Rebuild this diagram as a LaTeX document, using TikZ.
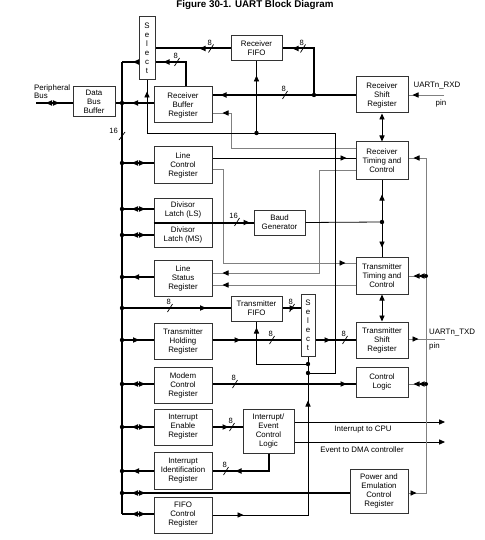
\documentclass[tikz,border=0pt]{standalone}
\usepackage{fontspec}
\setmainfont{Liberation Sans}
\usetikzlibrary{arrows.meta,decorations.markings}

\tikzset{
  >={Triangle[length=6pt,width=5.2pt]},
  blk/.style={draw=black!80,line width=1pt,align=center,inner sep=0pt,
    font=\fontsize{7.9}{9}\selectfont},
  lbl/.style={inner sep=0pt,font=\fontsize{7.9}{9}\selectfont},
  wlbl/.style={inner sep=0pt,font=\fontsize{7.6}{8}\selectfont},
  sig/.style={line width=0.8pt},
  greyline/.style={draw=black!50,line width=0.9pt},
  fat/.style={line width=2pt},
  bus/.style={line width=2.6pt},
  fwd/.style={postaction={decoration={markings,mark=at position #1 with {\arrow[black]{>}}},decorate}},
  bwd/.style={postaction={decoration={markings,mark=at position #1 with {\arrowreversed[black]{>}}},decorate}},
  dual/.style={bwd=10pt,fwd=23pt},
}
% bus width mark: name, x, y, label
\newcommand{\wslash}[4]{%
  \draw[line width=0.7pt] ({#2-2.5},{#3+4}) -- ({#2+2.5},{#3-4});
  \node[wlbl,anchor=south east] (#1) at ({#2+1},{#3-3}) {#4};}

\begin{document}
\begin{tikzpicture}[x=1pt,y=-1pt]
\useasboundingbox (0,0) rectangle (484,540);
\node[font=\bfseries\fontsize{9.8}{11}\selectfont,inner sep=0pt] (title) at (255,4.5) {Figure 30-1. UART Block Diagram};

% blocks
\node[blk,minimum width=16pt,minimum height=63pt] (selR) at (147,48.5) {S\\e\\l\\e\\c\\t};
\node[blk,minimum width=51pt,minimum height=25pt] (rfifo) at (256.5,48.5) {Receiver\\FIFO};
\node[blk,minimum width=52pt,minimum height=36pt] (rsr) at (382,95) {Receiver\\Shift\\Register};
\node[blk,minimum width=58pt,minimum height=36pt] (rbr) at (183,105) {Receiver\\Buffer\\Register};
\node[blk,minimum width=42pt,minimum height=30pt] (dbb) at (94,102) {Data\\Bus\\Buffer};
\node[blk,minimum width=58pt,minimum height=36pt] (lcr) at (183,165) {Line\\Control\\Register};
\node[blk,minimum width=52pt,minimum height=37pt] (rtc) at (382,160.5) {Receiver\\Timing and\\Control};
\node[blk,minimum width=58pt,minimum height=24pt] (dll) at (183,210) {Divisor\\Latch (LS)};
\node[blk,minimum width=58pt,minimum height=25pt] (dlm) at (183,234.5) {Divisor\\Latch (MS)};
\node[blk,minimum width=51pt,minimum height=25pt] (baud) at (279.5,222.5) {Baud\\Generator};
\node[blk,minimum width=52pt,minimum height=37pt] (ttc) at (382,275.5) {Transmitter\\Timing and\\Control};
\node[blk,minimum width=58pt,minimum height=36pt] (lsr) at (183,278) {Line\\Status\\Register};
\node[blk,minimum width=51pt,minimum height=25pt] (tfifo) at (256.5,308.5) {Transmitter\\FIFO};
\node[blk,minimum width=14pt,minimum height=62pt] (selT) at (308,325) {S\\e\\l\\e\\c\\t};
\node[blk,minimum width=58pt,minimum height=36pt] (thr) at (183,341) {Transmitter\\Holding\\Register};
\node[blk,minimum width=52pt,minimum height=36pt] (tsr) at (382,340) {Transmitter\\Shift\\Register};
\node[blk,minimum width=58pt,minimum height=36pt] (mcr) at (183,385) {Modem\\Control\\Register};
\node[blk,minimum width=52pt,minimum height=30pt] (cl) at (382,382) {Control\\Logic};
\node[blk,minimum width=58pt,minimum height=36pt] (ier) at (183,427) {Interrupt\\Enable\\Register};
\node[blk,minimum width=51pt,minimum height=44pt] (iecl) at (268.5,431) {Interrupt/\\Event\\Control\\Logic};
\node[blk,minimum width=58pt,minimum height=37pt] (iir) at (183,470.5) {Interrupt\\Identification\\Register};
\node[blk,minimum width=58pt,minimum height=44pt] (pecr) at (379,491) {Power and\\Emulation\\Control\\Register};
\node[blk,minimum width=58pt,minimum height=36pt] (fcr) at (183,515) {FIFO\\Control\\Register};

% texts
\node[lbl,anchor=west,align=left,font=\fontsize{7.9}{8}\selectfont] (pbus) at (34,91.5) {Peripheral\\Bus};
\node[lbl] (rxd) at (437,86) {UARTn\_RXD};
\node[lbl] (rxdpin) at (441,103) {pin};
\node[lbl,anchor=west] (txd) at (429,333) {UARTn\_TXD};
\node[lbl,anchor=west] (txdpin) at (429,346) {pin};
\node[lbl] (cpu) at (363,430) {Interrupt to CPU};
\node[lbl] (dma) at (362,450) {Event to DMA controller};

% bus points
\coordinate (bT) at (122,62);
\coordinate (bDB) at (122,103);
\coordinate (bLC) at (122,163);
\coordinate (bLS) at (122,209);
\coordinate (bMS) at (122,235);
\coordinate (bST) at (122,277);
\coordinate (bTF) at (122,308);
\coordinate (bTH) at (122,340);
\coordinate (bMC) at (122,384);
\coordinate (bIE) at (122,427);
\coordinate (bII) at (122,471);
\coordinate (bPE) at (122,493);
\coordinate (bFC) at (122,514);
% other points
\coordinate (pb) at (36,103);
\coordinate (rxj) at (314,95);
\coordinate (bgj) at (382,222);
\coordinate (rfj) at (256.5,133);
\coordinate (sA) at (308,364);
\coordinate (sB) at (308,373);
\coordinate (pj1) at (426,276);
\coordinate (pj2) at (426,384);
\coordinate (rxdend) at (444,95);
\coordinate (txdend) at (445,339);
\coordinate (cpuend) at (445,422);
\coordinate (dmaend) at (445,442);

% main bus
\draw[bus] (bT) -- (bFC);
\draw[line width=0.7pt] (119,140) -- (125,132);
\node[wlbl,anchor=east] (w16b) at (118,131) {16};
\draw[fat,bwd=11pt] (bT) -- (selR.west |- bT);
\draw[fat] (dbb.east |- bDB) -- (bDB);
\draw[fat,bwd=10pt] (bDB) -- (rbr.west |- bDB);
\draw[fat,dual] (pb) -- (dbb.west |- pb);
\draw[fat,dual] (bLC) -- (lcr.west |- bLC);
\draw[fat,dual] (bLS) -- (dll.west |- bLS);
\draw[fat,dual] (bMS) -- (dlm.west |- bMS);
\draw[fat,bwd=11pt] (bST) -- (lsr.west |- bST);
\draw[fat,fwd=84pt] (bTF) -- (tfifo.west |- bTF);
\draw[fat,fwd=17pt] (bTH) -- (thr.west |- bTH);
\draw[fat,dual] (bMC) -- (mcr.west |- bMC);
\draw[fat,dual] (bIE) -- (ier.west |- bIE);
\draw[fat,bwd=11pt] (bII) -- (iir.west |- bII);
\draw[fat,dual] (bPE) -- (pecr.west |- bPE);
\draw[fat,dual] (bFC) -- (fcr.west |- bFC);
\foreach \c in {bDB,bLC,bLS,bMS,bST,bTF,bTH,bMC,bIE,bII,bPE}
  \fill (\c) circle[radius=2.2pt];
\wslash{w8a}{170}{308}{8}

% receive side
\draw[fat,fwd=31pt] (rfifo.west) -- (selR.east |- rfifo.west);
\wslash{w8b}{211}{48.5}{8}
\draw[fat,fwd=-8pt] ([xshift=3pt]rbr.north) |- (selR.east |- bT);
\wslash{w8c}{177}{62}{8}
\draw[fat,fwd=-10pt] (rxj) |- (rfifo.east);
\wslash{w8d}{303}{48.5}{8}
\draw[fat,fwd=-8pt] (rsr.west) -- (rbr.east |- rsr.west);
\wslash{w8e}{285}{95}{8}
\fill (rxj) circle[radius=2.2pt];
\draw[greyline,fwd=-4pt] (rxdend) -- (rsr.east |- rxdend); %RXD pin
\draw[sig,<->] (rsr) -- (rtc);
\draw[greyline,fwd=-10pt] (rtc.west |- 0,148) -| (231,113) -- (rbr.east |- 0,113);
\draw[sig,fwd=-9pt] (lcr.east |- 0,158) -- (rtc.west |- 0,158);
\draw[greyline,fwd=-10pt] (lcr.east |- 0,169) -| (223,263) -- (ttc.west |- 0,263);
\draw[greyline,fwd=-10pt] (rtc.west |- 0,170) -| (319,273) -- (lsr.east |- 0,273);
\draw[greyline,fwd=-10pt] (ttc.west |- 0,285) -- (lsr.east |- 0,285);

% baud generator
\draw[fat,fwd=-4pt] (dll.south west) -- (baud.west |- dll.south west);
\wslash{w16a}{237}{222}{16}
\draw[sig] (baud.east) -- (bgj);
\draw[sig,fwd=-15pt] (bgj) -- (rtc.south);
\draw[sig,fwd=-9pt] (bgj) -- (ttc.north);
\fill (bgj) circle[radius=2.2pt];

% transmit side
\draw[fat,fwd=-5pt] (tfifo.east |- bTF) -- (selT.west |- bTF);
\wslash{w8f}{292}{308}{8}
\draw[fat,fwd=28pt] (thr.east |- bTH) -- (selT.west |- bTH);
\wslash{w8g}{272}{340}{8}
\draw[fat,fwd=15pt] (selT.east |- bTH) -- (tsr.west |- bTH);
\wslash{w8h}{345}{340}{8}
\draw[sig,<->] (ttc) -- (tsr);
\draw[greyline,fwd=10pt] (tsr.east |- txdend) -- (txdend); %TXD pin
\draw[fat,fwd=-9pt] (mcr.east |- bMC) -- (cl.west |- bMC);
\wslash{w8i}{235}{384}{8}

% select / fifo control
\draw[sig,fwd=31pt,fwd=-44pt] (fcr.east) -| (selT.south);
\draw[sig,fwd=-6pt] (sA) -| (tfifo.south);
\draw[sig,fwd=-11pt] (sB) -| (335,133) -| (selR.south);
\draw[sig,fwd=-14pt] (rfj) -- (rfifo.south);
\foreach \c in {sA,sB,rfj}
  \fill (\c) circle[radius=2.2pt];

% interrupts
\draw[fat,fwd=16pt] (ier.east |- bIE) -- (iecl.west |- bIE);
\wslash{w8j}{232}{427}{8}
\draw[fat,fwd=-23pt] (iecl.south) |- (iir.east |- bII);
\wslash{w8k}{226}{471}{8}
\draw[sig,->] (iecl.east |- cpuend) -- (cpuend);
\draw[sig,->] (iecl.east |- dmaend) -- (dmaend);

% power and emulation
\draw[greyline,fwd=8pt,fwd=-5pt] (pecr.east |- bPE) -| (426,158) -- (rtc.east |- 0,158);
\draw[greyline,fwd=-5pt,fwd=-10pt] (pj1) -- (ttc.east |- pj1);
\draw[greyline,fwd=-5pt,fwd=-10pt] (pj2) -- (cl.east |- pj2);
\fill (pj1) circle[radius=2pt];
\fill (pj2) circle[radius=2pt];
\end{tikzpicture}
\end{document}
